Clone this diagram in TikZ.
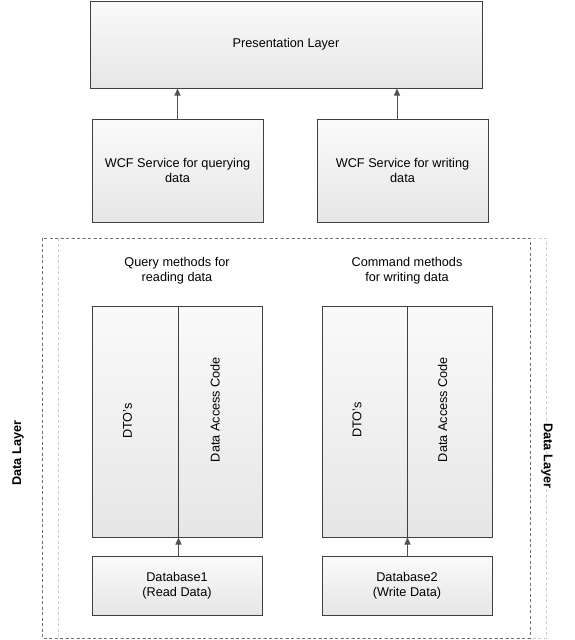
\documentclass[tikz,border=0pt]{standalone}
\usepackage{fontspec}
\setmainfont{Liberation Sans}
\usepackage{xcolor}
\usepackage{tikz}
\usetikzlibrary{arrows.meta, positioning, calc}
\definecolor{boxline}{HTML}{404040}
\definecolor{boxtop}{HTML}{FAFAFA}
\definecolor{boxbottom}{HTML}{E6E6E6}
\definecolor{arrowgrey}{HTML}{505050}
\definecolor{lanedark}{HTML}{707070}
\definecolor{lanelight}{HTML}{CCCCCC}

\begin{document}
\begin{tikzpicture}[x=1pt, y=-1pt,
        font=\fontsize{12.7}{15}\selectfont,
        layerbox/.style={draw=boxline, line width=1pt, top color=boxtop,
              bottom color=boxbottom, align=center, inner sep=0pt},
        flow/.style={draw=arrowgrey, line width=0.9pt,
              -{Triangle[length=7pt, width=6pt]}},
        lane/.style={dashed, dash pattern=on 3pt off 2.5pt, line width=0.8pt}]
        \useasboundingbox (0,0) rectangle (574,640);
        % data layer lanes
        \draw[lane, draw=lanelight] (58,238) rectangle (546,638);
        \draw[lane, draw=lanedark] (42,238) rectangle (530,638);
        \node[rotate=90, font=\fontsize{12.7}{15}\selectfont\bfseries] (laneleft) at (18,453) {Data Layer};
        \node[rotate=-90, font=\fontsize{12.7}{15}\selectfont\bfseries] (laneright) at (547,456) {Data Layer};
        % services
        \node[layerbox, minimum width=392pt, minimum height=87pt] (pres) at (286,44.5) {Presentation Layer};
        \node[layerbox, minimum width=171pt, minimum height=103pt] (wcfq) at (177.5,170.5) {WCF Service for querying\\data};
        \node[layerbox, minimum width=171pt, minimum height=103pt] (wcfw) at (402.5,170.5) {WCF Service for writing\\data};
        \draw[flow] (wcfq.north) -- (wcfq.north |- pres.south);
        \draw[flow] ([xshift=-5.5pt]wcfw.north) -- ([xshift=-5.5pt]wcfw.north |- pres.south);
        % query side
        \node[align=center] (qtitle) at (177,270.5) {Query methods for\\reading data};
        \node[layerbox, minimum width=86pt, minimum height=231pt] (dtoq) at (135,421.5) {};
        \node[layerbox, minimum width=84pt, minimum height=231pt] (dacq) at (220,421.5) {};
        \node[rotate=90, inner sep=0pt] (dtoqtext) at (127.5,421) {DTO's};
        \node[rotate=90, inner sep=0pt] (dacqtext) at (215,409.5) {Data Access Code};
        \node[layerbox, minimum width=170pt, minimum height=59pt] (dbread) at (177,585.5) {Database1\\(Read Data)};
        \draw[flow] (dbread.north -| dtoq.south east) -- (dtoq.south east);
        % command side
        \node[align=center] (ctitle) at (407,270.5) {Command methods\\for writing data};
        \node[layerbox, minimum width=85pt, minimum height=231pt] (dtoc) at (364.5,421.5) {};
        \node[layerbox, minimum width=85pt, minimum height=231pt] (dacc) at (449.5,421.5) {};
        \node[rotate=90, inner sep=0pt] (dtoctext) at (357,420) {DTO's};
        \node[rotate=90, inner sep=0pt] (dacctext) at (442.5,409.5) {Data Access Code};
        \node[layerbox, minimum width=170pt, minimum height=59pt] (dbwrite) at (407,585.5) {Database2\\(Write Data)};
        \draw[flow] (dbwrite.north -| dtoc.south east) -- (dtoc.south east);
    \end{tikzpicture}
\end{document}
